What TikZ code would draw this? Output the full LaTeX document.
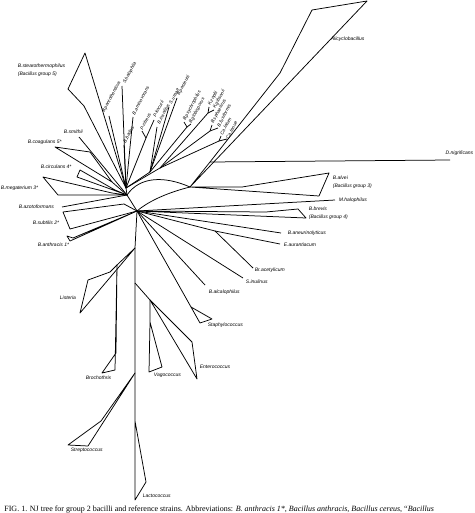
\documentclass[tikz,border=0pt]{standalone}
\usepackage{fontspec}
\setmainfont{Liberation Serif}
\setsansfont{Liberation Sans}
\begin{document}
\begin{tikzpicture}[
        x=1pt, y=-1pt,
        line width=0.75pt,
        line join=round,
        font=\sffamily\itshape\fontsize{5}{6}\selectfont
    ]
    \tikzset{
        taxon/.style = {anchor=west, inner sep=0.5pt},
        taxonup/.style = {anchor=west, inner sep=0.3pt, rotate=62, font=\sffamily\itshape\fontsize{4.7}{5}\selectfont},
    }
    \useasboundingbox (0,0) rectangle (474,513);
    \clip (0,0) rectangle (474,513);
    % centre of the tree
    \coordinate (hubR) at (137,211);
    \coordinate (hubL) at (127,195);
    \coordinate (hubU) at (126,188);
    \coordinate (alv) at (190,187);
    \draw (hubR) -- (hubL) -- (hubU);
    \draw (hubL) .. controls (140,176) and (165,176) .. (alv);
    \draw (hubR) .. controls (150,200) and (170,192) .. (alv);
    % main stem down
    \coordinate (lis) at (135,248);
    \coordinate (ent) at (135,283);
    \coordinate (str) at (135,373);
    \coordinate (lac) at (135,421);
    \coordinate (lacA) at (146,482);
    \coordinate (lacB) at (135,500);
    \draw (hubR) -- (lis) -- (ent) -- (str) -- (lac) -- (lacB) -- (lacA) -- (lac);
    \coordinate (bro) at (117,265);
    \coordinate (lisN) at (110,272);
    \coordinate (lisA) at (88,280);
    \coordinate (lisB) at (80,313);
    \draw (lis) -- (bro) -- (lisN) -- (lisA) -- (lisB) -- cycle;
    \coordinate (broN) at (116,353);
    \coordinate (broA) at (102,373);
    \coordinate (broB) at (115,370);
    \draw (bro) -- (broN) -- (broA) -- (broB) -- cycle;
    \coordinate (ve) at (150,300);
    \coordinate (vagA) at (150,322);
    \coordinate (vagB) at (162,367);
    \coordinate (vagC) at (149,372);
    \draw (ent) -- (ve) -- (vagA) -- (vagC) -- (vagB) -- (vagA);
    \coordinate (entA) at (192,342);
    \coordinate (entB) at (197,379);
    \draw (ve) -- (entA) -- (entB) -- cycle;
    \coordinate (strN) at (101,421);
    \coordinate (strA) at (68,445);
    \coordinate (strB) at (88,446);
    \draw (str) -- (strN) -- (strA) -- (strB) -- cycle;
    % fan to the lower right
    \coordinate (sta) at (191,307);
    \coordinate (staA) at (212,319);
    \coordinate (staB) at (200,323);
    \draw (hubR) -- (sta) -- (staA) -- (staB) -- cycle;
    \coordinate (alc) at (205,285);
    \coordinate (inu) at (243,278);
    \coordinate (eau) at (215,231);
    \coordinate (eauT) at (280,244);
    \coordinate (ace) at (253,268);
    \coordinate (ane) at (281,233);
    \draw (hubR) -- (alc);
    \draw (hubR) -- (inu);
    \draw (hubR) -- (eau) -- (eauT);
    \draw (eau) -- (ace);
    \draw (hubR) -- (ane);
    \coordinate (bre) at (266,212);
    \coordinate (breA) at (298,209);
    \coordinate (breB) at (306,218);
    \draw (hubR) -- (bre) -- (breA) -- (breB) -- cycle;
    \coordinate (hal) at (335,200);
    \draw (hubR) -- (hal);
    % Alicyclobacillus side
    \coordinate (alvN) at (242,187);
    \coordinate (alvA) at (329,173);
    \coordinate (alvB) at (319,196);
    \draw (alv) -- (alvN) -- (alvA) -- (alvB) -- cycle;
    \coordinate (dni) at (210,162);
    \coordinate (dniT) at (450,160);
    \coordinate (aly) at (280,73);
    \coordinate (alyA) at (312,10);
    \coordinate (alyB) at (367,1);
    \draw (alv) -- (dni) -- (aly) -- (alyA) -- (alyB) -- cycle;
    \draw (dni) -- (dniT);
    % upper cluster
    \coordinate (pan) at (109,116);
    \coordinate (hlp) at (122,86);
    \coordinate (bad) at (124,145);
    \coordinate (ami) at (133,117);
    \coordinate (pla) at (146,138);
    \coordinate (plaA) at (142,131);
    \coordinate (plaB) at (154,120);
    \draw (hubU) -- (pan);
    \draw (hubU) -- (hlp);
    \draw (hubU) -- (bad);
    \draw (hubU) -- (ami);
    \draw (hubU) -- (pla) -- (plaA);
    \draw (pla) -- (plaB);
    \coordinate (pn) at (150,172);
    \coordinate (ins) at (157,127);
    \coordinate (ure) at (169,107);
    \coordinate (pas) at (177,98);
    \coordinate (psy) at (187,127);
    \coordinate (psyA) at (184,122);
    \coordinate (psyB) at (191,124);
    \draw (hubU) -- (pn) -- (ins);
    \draw (pn) -- (ure);
    \draw (pn) -- (pas);
    \draw (pn) -- (psy) -- (psyA);
    \draw (psy) -- (psyB);
    \coordinate (kn) at (160,168);
    \coordinate (kur) at (208,113);
    \coordinate (kurA) at (209,107);
    \coordinate (kurB) at (214,110);
    \coordinate (sph) at (210,131);
    \coordinate (sphA) at (212,125);
    \coordinate (sphB) at (218,128);
    \coordinate (car) at (219,141);
    \coordinate (carA) at (221,136);
    \coordinate (carB) at (227,139);
    \draw (hubU) -- (kn) -- (kur) -- (kurA);
    \draw (kur) -- (kurB);
    \draw (kn) -- (sph) -- (sphA);
    \draw (sph) -- (sphB);
    \draw (kn) -- (car) -- (carA);
    \draw (car) -- (carB);
    % left cluster
    \coordinate (ste) at (84,106);
    \coordinate (steA) at (85,53);
    \coordinate (steB) at (68,89);
    \draw (hubU) -- (ste) -- (steB) -- (steA) -- cycle;
    \coordinate (smi) at (79,137);
    \draw (hubL) -- (smi);
    \coordinate (coa) at (112,182);
    \coordinate (coaA) at (55,147);
    \coordinate (coaB) at (90,152);
    \draw (coa) -- (coaA) -- (coaB) -- cycle;
    \draw (hubL) -- (coa);
    \coordinate (cir) at (115,190);
    \coordinate (cirA) at (80,170);
    \coordinate (cirB) at (77,177);
    \draw (hubL) -- (cir) -- (cirA) -- (cirB) -- cycle;
    \coordinate (meg) at (112,193);
    \coordinate (megA) at (43,177);
    \coordinate (megB) at (58,195);
    \draw (hubL) -- (meg) -- (megA) -- (megB) -- cycle;
    \coordinate (azo) at (62,207);
    \draw (hubL) -- (azo);
    \coordinate (sub) at (124,204);
    \coordinate (subA) at (63,212);
    \coordinate (subB) at (70,229);
    \draw (hubR) -- (sub) -- (subA) -- (subB) -- cycle;
    \coordinate (ant) at (73,238);
    \coordinate (antA) at (67,236);
    \coordinate (antB) at (70,241);
    \draw (hubR) -- (ant) -- (antA) -- (antB) -- cycle;
    % labels
    \node[taxon] (lSte) at (17,66) {B.stearothermophilus};
    \node[taxon] (lSteG) at (17,74) {(Bacillus group 5)};
    \node[taxon] (lSmi) at (63,132) {B.smithii};
    \node[taxon] (lCoa) at (27,142) {B.coagulans 5*};
    \node[taxon] (lCir) at (40,167) {B.circulans 4*};
    \node[taxon] (lMeg) at (0,188) {B.megaterium 3*};
    \node[taxon] (lAzo) at (18,207) {B.azotoformans};
    \node[taxon] (lSub) at (32,223) {B.subtilis 2*};
    \node[taxon] (lAnt) at (37,245) {B.anthracis 1*};
    \node[taxon] (lLis) at (59,298) {Listeria};
    \node[taxon] (lBro) at (85,378) {Brochothrix};
    \node[taxon] (lStr) at (70,450) {Streptococcus};
    \node[taxon] (lLac) at (142,496) {Lactococcus};
    \node[taxon] (lVag) at (153,375) {Vagococcus};
    \node[taxon] (lEnt) at (199,367) {Enterococcus};
    \node[taxon] (lSta) at (207,325) {Staphylococcus};
    \node[taxon] (lAlc) at (208,292) {B.alcalophilus};
    \node[taxon] (lInu) at (245,282) {S.inulinus};
    \node[taxon] (lAce) at (254,270) {Br.acetylicum};
    \node[taxon] (lEau) at (283,245) {E.aurantiacum};
    \node[taxon] (lAne) at (287,233) {B.aneurinolyticus};
    \node[taxon] (lBre) at (308,209) {B.brevis};
    \node[taxon] (lBreG) at (308,217) {(Bacillus group 4)};
    \node[taxon] (lHal) at (338,200) {M.halophilus};
    \node[taxon] (lAlv) at (332,178) {B.alvei};
    \node[taxon] (lAlvG) at (332,186) {(Bacillus group 3)};
    \node[taxon, anchor=east] (lDni) at (474,153) {D.nigrificans};
    \node[taxon] (lAly) at (330,39) {Alicyclobacillus};
    \node[taxonup] (lPan) at (103,113) {B.pantothenticus};
    \node[taxonup] (lHlp) at (124,84) {S.halophila};
    \node[taxonup] (lBad) at (124,143) {B.badius};
    \node[taxonup] (lAmi) at (133,115) {B.aminovorans};
    \node[taxonup] (lCit) at (141,130) {P.citreus};
    \node[taxonup] (lKoc) at (154,117) {P.kocurii};
    \node[taxonup] (lIns) at (158,124) {B.insolitus};
    \node[taxonup] (lUre) at (170,104) {S.ureae};
    \node[taxonup] (lPas) at (178,96) {B.pasteurii};
    \node[taxonup] (lPsy) at (184,121) {B.psychrophilus};
    \node[taxonup] (lGlo) at (190,124) {B.globisporus};
    \node[taxonup] (lZop) at (209,106) {K.zopfii};
    \node[taxonup] (lGib) at (214,109) {K.gibsonii};
    \node[taxonup] (lSph) at (212,124) {B.sphaericus};
    \node[taxonup] (lFus) at (218,127) {B.fusiformis};
    \node[taxonup] (lLat) at (221,135) {Ca.latum};
    \node[taxonup] (lTen) at (227,139) {Ca.tenue};
    % caption
    \node[anchor=base west, inner sep=0pt, font=\rmfamily\fontsize{8}{9}\selectfont] (cap) at (4,511)
        {FIG. 1. NJ tree for group 2 bacilli and reference strains. Abbreviations: \textit{B. anthracis 1*}, \textit{Bacillus anthracis}, \textit{Bacillus cereus}, ``\textit{Bacillus}};
\end{tikzpicture}
\end{document}
